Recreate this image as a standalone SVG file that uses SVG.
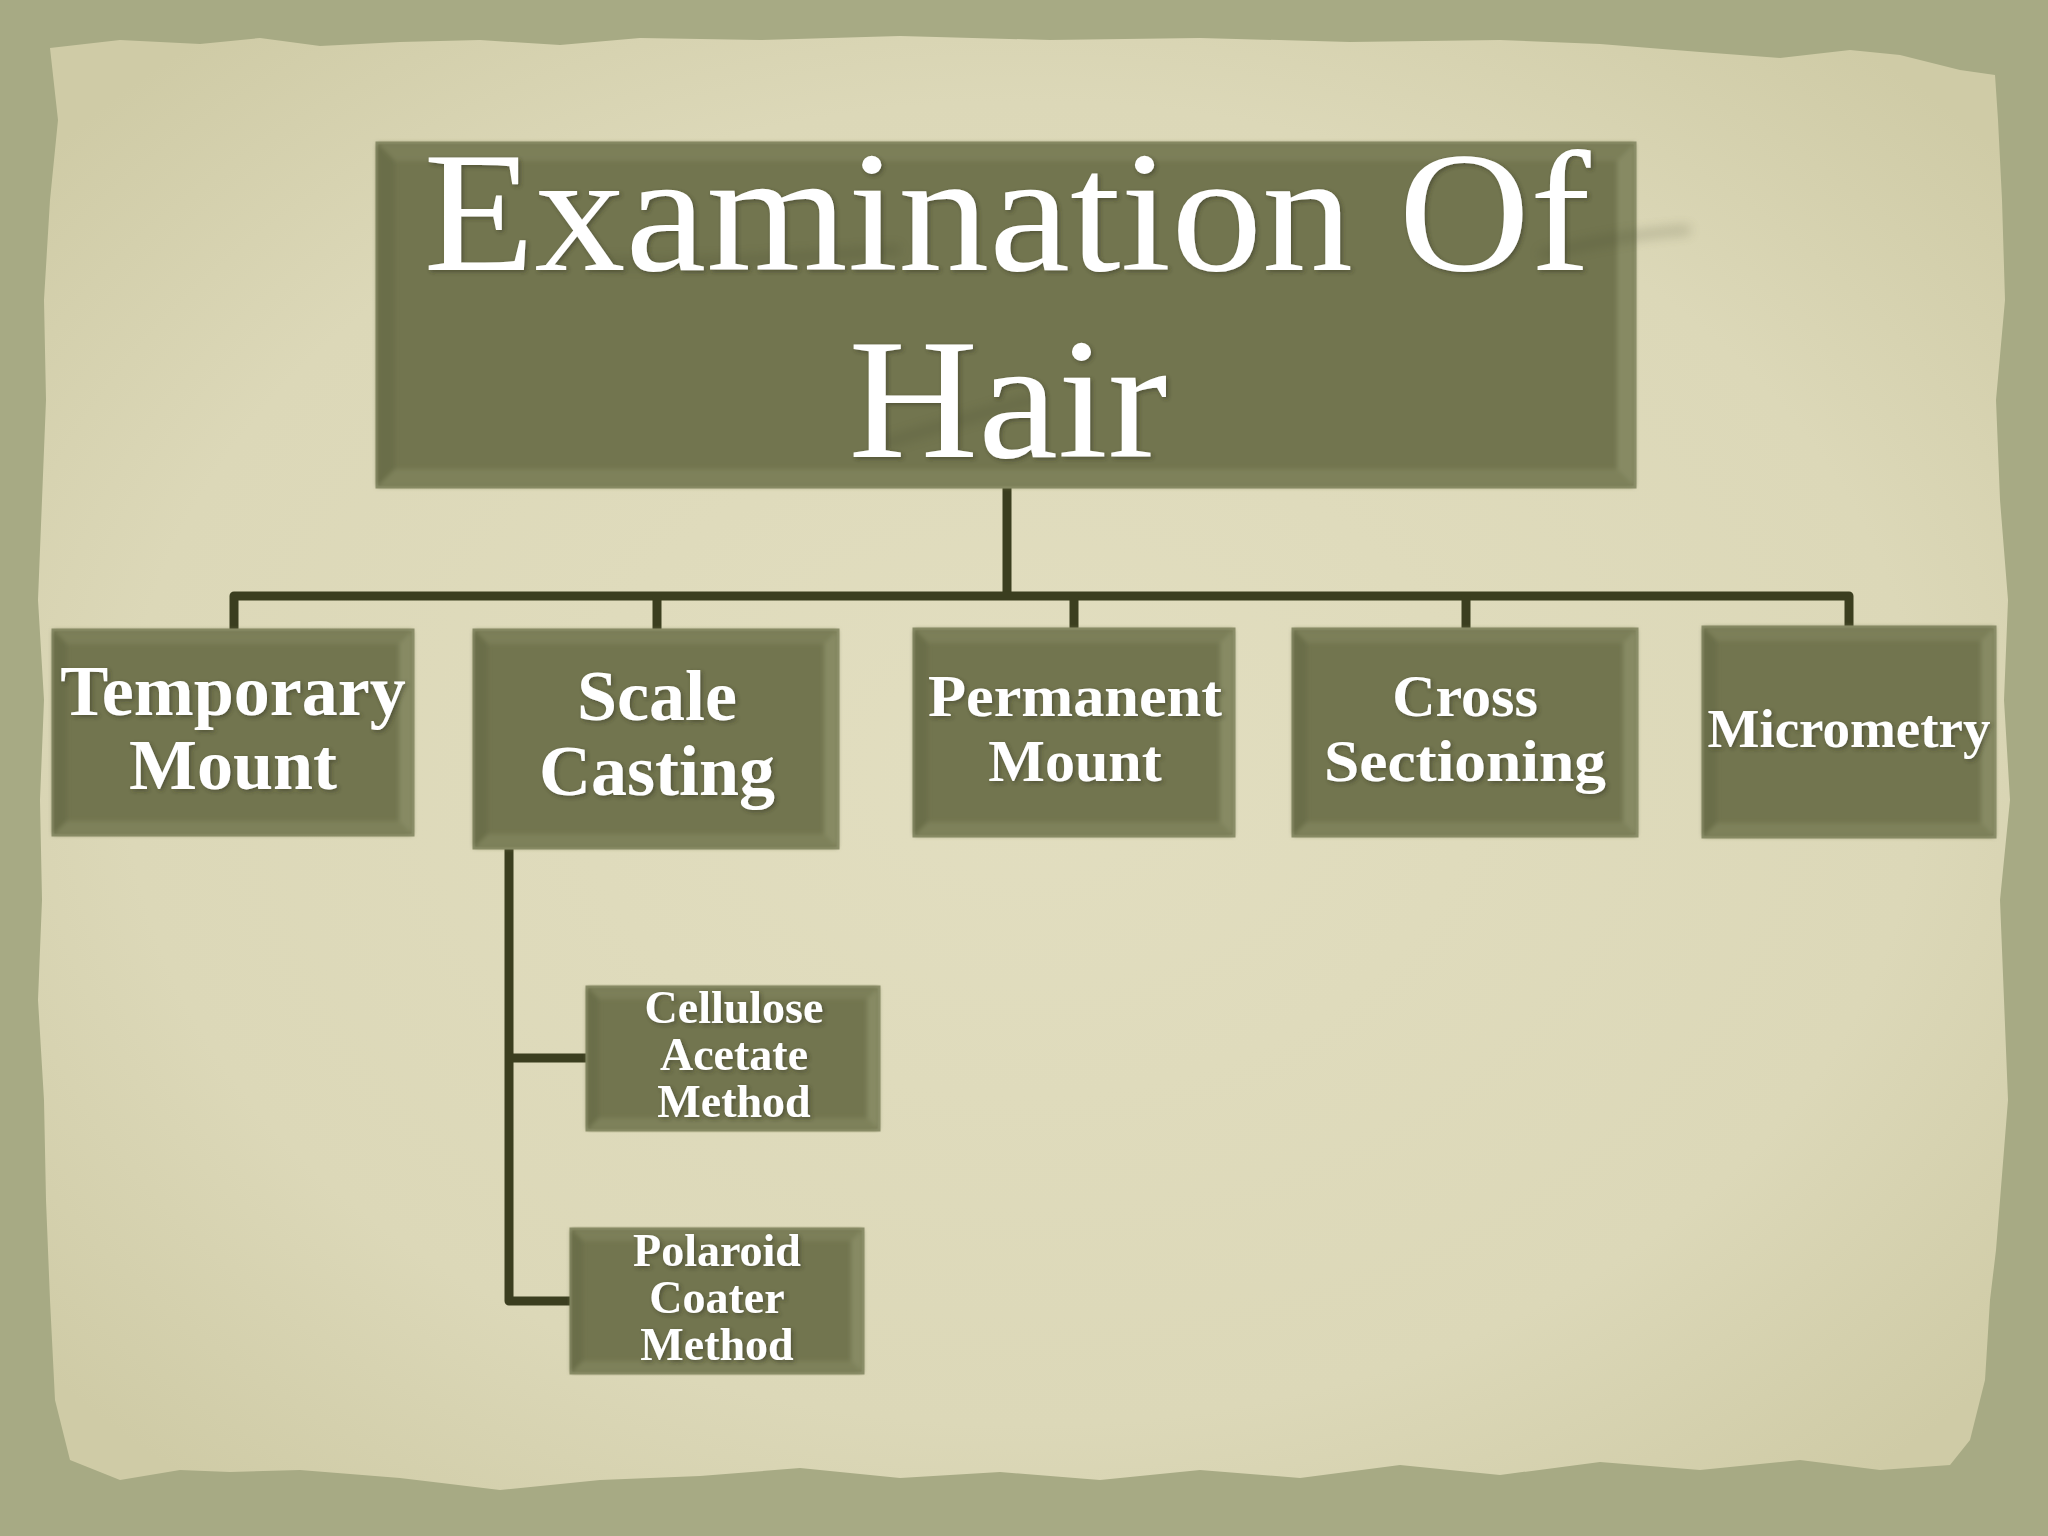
<svg xmlns="http://www.w3.org/2000/svg" width="2048" height="1536" viewBox="0 0 2048 1536">
<defs>
<style>
.frame{fill:#a7aa84}
.paper{fill:url(#paperGrad)}
.box{fill:#72754f;stroke:#8d906b;stroke-width:3}
.bt{fill:#7c7f59}
.bl{fill:#6b6e49}
.br{fill:#878a64}
.bb{fill:#7e815a}
.bev{filter:url(#soft)}
.conn{fill:none;stroke:#3b3e1f;stroke-width:9;stroke-linejoin:round;stroke-linecap:butt}
.title{font-family:"Liberation Serif","DejaVu Serif",serif;font-size:172px;fill:#ffffff;text-anchor:middle}
.lbl{font-family:"Liberation Serif","DejaVu Serif",serif;font-weight:bold;fill:#ffffff;text-anchor:middle}
.t{filter:url(#tshadow)}
</style>
<radialGradient id="paperGrad" cx="50%" cy="50%" r="65%">
<stop offset="0" stop-color="#e2dec0"/>
<stop offset="0.7" stop-color="#dcd8b8"/>
<stop offset="1" stop-color="#cfcba6"/>
</radialGradient>
<filter id="soft" x="-2%" y="-2%" width="104%" height="104%">
<feGaussianBlur stdDeviation="2"/>
</filter>
<filter id="tshadow" x="-5%" y="-10%" width="110%" height="130%">
<feDropShadow dx="2" dy="2" stdDeviation="2" flood-color="#2f321a" flood-opacity="0.5"/>
</filter>
<filter id="streak" x="-20%" y="-50%" width="140%" height="200%">
<feGaussianBlur stdDeviation="6"/>
</filter>
</defs>

<g id="background">
<rect class="frame" x="0" y="0" width="2048" height="1536"/>
<polygon class="paper" points="50,48 120,40 200,44 260,38 320,46 400,42 480,40 560,45 640,38 760,40 900,36 1050,40 1200,38 1350,42 1500,40 1600,44 1700,52 1780,58 1850,50 1900,55 1960,70 1995,75 1998,120 2002,200 2005,300 1996,400 2000,500 2008,600 2004,700 2010,800 2000,900 2004,1000 2008,1100 2000,1200 1996,1250 1990,1300 1985,1380 1970,1440 1950,1465 1880,1470 1800,1460 1700,1470 1600,1462 1500,1475 1400,1465 1300,1478 1200,1470 1100,1480 1000,1472 900,1478 800,1468 700,1476 600,1480 500,1490 400,1478 300,1470 230,1472 180,1470 120,1480 70,1460 55,1400 50,1300 46,1200 44,1100 38,1000 42,900 40,800 44,700 38,600 42,500 46,400 44,300 50,200 58,120"/>
</g>

<g id="connectors">
<path class="conn" d="M1007 487 V596"/>
<path class="conn" d="M234 631 V596 H1849 V628"/>
<path class="conn" d="M657 596 V631"/>
<path class="conn" d="M1074 596 V630"/>
<path class="conn" d="M1466 596 V630"/>
<path class="conn" d="M509 848 V1301 H572"/>
<path class="conn" d="M509 1058 H588"/>
</g>

<g id="node-title">
<rect class="box" x="377" y="143" width="1258" height="344"/>
<g class="bev">
<polygon class="bt" points="377,143 1635,143 1617,161 395,161"/>
<polygon class="bl" points="377,143 395,161 395,469 377,487"/>
<polygon class="br" points="1635,143 1635,487 1617,469 1617,161"/>
<polygon class="bb" points="377,487 1635,487 1617,469 395,469"/>
</g>
<path d="M600 262 C720 266 820 255 900 250 M880 445 C960 420 1010 405 1040 398 M1540 255 C1600 240 1650 232 1690 230" fill="none" stroke="#3d3f25" stroke-width="9" opacity="0.22" filter="url(#streak)"/>
<text class="title t" x="1007" y="270" textLength="1167" lengthAdjust="spacingAndGlyphs">Examination Of</text>
<text class="title t" x="1008" y="457" textLength="319" lengthAdjust="spacingAndGlyphs">Hair</text>
</g>

<g id="node-temporary">
<rect class="box" x="53" y="630" width="360" height="205"/>
<g class="bev">
<polygon class="bt" points="53,630 413,630 399,644 67,644"/>
<polygon class="bl" points="53,630 67,644 67,821 53,835"/>
<polygon class="br" points="413,630 413,835 399,821 399,644"/>
<polygon class="bb" points="53,835 413,835 399,821 67,821"/>
</g>
<text class="lbl t" font-size="72" x="233" y="715">Temporary</text>
<text class="lbl t" font-size="72" x="233" y="789">Mount</text>
</g>

<g id="node-scale">
<rect class="box" x="474" y="630" width="364" height="218"/>
<g class="bev">
<polygon class="bt" points="474,630 838,630 824,644 488,644"/>
<polygon class="bl" points="474,630 488,644 488,834 474,848"/>
<polygon class="br" points="838,630 838,848 824,834 824,644"/>
<polygon class="bb" points="474,848 838,848 824,834 488,834"/>
</g>
<text class="lbl t" font-size="72" x="657" y="720">Scale</text>
<text class="lbl t" font-size="72" x="657" y="795">Casting</text>
</g>

<g id="node-permanent">
<rect class="box" x="914" y="629" width="320" height="207"/>
<g class="bev">
<polygon class="bt" points="914,629 1234,629 1220,643 928,643"/>
<polygon class="bl" points="914,629 928,643 928,822 914,836"/>
<polygon class="br" points="1234,629 1234,836 1220,822 1220,643"/>
<polygon class="bb" points="914,836 1234,836 1220,822 928,822"/>
</g>
<text class="lbl t" font-size="60" x="1075" y="716" textLength="294" lengthAdjust="spacingAndGlyphs">Permanent</text>
<text class="lbl t" font-size="60" x="1075" y="781">Mount</text>
</g>

<g id="node-cross">
<rect class="box" x="1293" y="629" width="344" height="207"/>
<g class="bev">
<polygon class="bt" points="1293,629 1637,629 1623,643 1307,643"/>
<polygon class="bl" points="1293,629 1307,643 1307,822 1293,836"/>
<polygon class="br" points="1637,629 1637,836 1623,822 1623,643"/>
<polygon class="bb" points="1293,836 1637,836 1623,822 1307,822"/>
</g>
<text class="lbl t" font-size="60" x="1465" y="716">Cross</text>
<text class="lbl t" font-size="60" x="1465" y="781" textLength="282" lengthAdjust="spacingAndGlyphs">Sectioning</text>
</g>

<g id="node-micrometry">
<rect class="box" x="1703" y="627" width="292" height="210"/>
<g class="bev">
<polygon class="bt" points="1703,627 1995,627 1981,641 1717,641"/>
<polygon class="bl" points="1703,627 1717,641 1717,823 1703,837"/>
<polygon class="br" points="1995,627 1995,837 1981,823 1981,641"/>
<polygon class="bb" points="1703,837 1995,837 1981,823 1717,823"/>
</g>
<text class="lbl t" font-size="55" x="1849" y="747">Micrometry</text>
</g>

<g id="node-cellulose">
<rect class="box" x="587" y="987" width="292" height="143"/>
<g class="bev">
<polygon class="bt" points="587,987 879,987 867,999 599,999"/>
<polygon class="bl" points="587,987 599,999 599,1118 587,1130"/>
<polygon class="br" points="879,987 879,1130 867,1118 867,999"/>
<polygon class="bb" points="587,1130 879,1130 867,1118 599,1118"/>
</g>
<text class="lbl t" font-size="46" x="734" y="1023">Cellulose</text>
<text class="lbl t" font-size="46" x="734" y="1070">Acetate</text>
<text class="lbl t" font-size="46" x="734" y="1117">Method</text>
</g>

<g id="node-polaroid">
<rect class="box" x="571" y="1229" width="292" height="144"/>
<g class="bev">
<polygon class="bt" points="571,1229 863,1229 851,1241 583,1241"/>
<polygon class="bl" points="571,1229 583,1241 583,1361 571,1373"/>
<polygon class="br" points="863,1229 863,1373 851,1361 851,1241"/>
<polygon class="bb" points="571,1373 863,1373 851,1361 583,1361"/>
</g>
<text class="lbl t" font-size="46" x="717" y="1266">Polaroid</text>
<text class="lbl t" font-size="46" x="717" y="1313">Coater</text>
<text class="lbl t" font-size="46" x="717" y="1360">Method</text>
</g>
</svg>
